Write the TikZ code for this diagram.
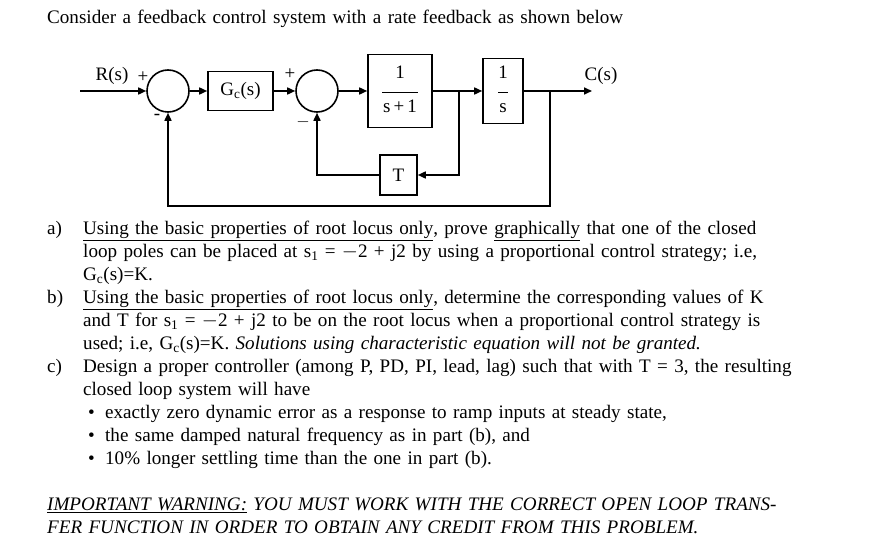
\documentclass[tikz,border=0pt]{standalone}
\usepackage{fontspec}
\setmainfont{Liberation Serif}
\usetikzlibrary{arrows.meta}
\begin{document}
\begin{tikzpicture}[x=1pt,y=-1pt,
  blk/.style={draw,line width=1.6pt,minimum width=#1,inner sep=0pt,font=\fontsize{19}{21}\selectfont},
  sum/.style={draw,circle,line width=1.6pt,minimum size=42pt,inner sep=0pt},
  ln/.style={line width=1.6pt},
  ar/.style={ln,-{Triangle[length=8pt,width=7pt]}},
  txt/.style={anchor=north west,inner sep=0pt,font=\fontsize{19.1}{23}\selectfont,text width=#1},
  sm/.style={font=\fontsize{19}{21}\selectfont,inner sep=0pt}]
\useasboundingbox (0,0) rectangle (874,553);
\fill[white] (0,0) rectangle (874,553);
\node[txt=820pt] (t0) at (47,10) {Consider a feedback control system with a rate feedback as shown below};
% diagram
\coordinate (in) at (80,91);
\node[sum] (s1) at (168,91) {};
\node[blk=65pt,minimum height=39pt] (gc) at (240.5,91) {G\textsubscript{c}(s)};
\node[sum] (s2) at (317,91) {};
\node[blk=64pt,minimum height=73pt] (p1) at (400,91) {\begin{tabular}{@{}c@{}}1\\[-6pt]\rule{36pt}{0.8pt}\\[-2pt]s\,+\,1\end{tabular}};
\node[blk=40pt,minimum height=65pt] (p2) at (503,91) {\begin{tabular}{@{}c@{}}1\\[-6pt]\rule{10pt}{0.8pt}\\[-2pt]s\end{tabular}};
\node[blk=37pt,minimum height=40pt] (tb) at (398.5,175) {T};
\coordinate (out) at (592,91);
\coordinate (b1) at (459,91);
\coordinate (b2) at (550,91);
\draw[ar] (in) -- (s1);
\draw[ar] (s1) -- (gc);
\draw[ar] (gc) -- (s2);
\draw[ar] (s2) -- (p1);
\draw[ar] (p1) -- (p2);
\draw[ar] (p2) -- (out);
\draw[ar] (b1) |- (tb);
\draw[ar] (tb) -| (s2);
\draw[ar] (b2) |- (168,206) -- (s1);
\node[sm] (lr) at (112,76) {R(s)};
\node[sm] (lc) at (601,76) {C(s)};
\node[sm] (p1s) at (143,77) {+};
\node[sm] (m1) at (157,117) {-};
\node[sm] (p2s) at (290,74) {+};
\node[sm] (m2) at (303,122) {$-$};
% text
\node[txt=20pt] (la) at (47,221) {a)};
\node[txt=712pt] (ta) at (83,221) {\underline{Using the basic properties of root locus only}, prove \underline{graphically} that one of the closed loop poles can be placed at s\textsubscript{1} = $-$2 + j2 by using a proportional control strategy; i.e, G\textsubscript{c}(s)=K.};
\node[txt=20pt] (lb) at (47,290) {b)};
\node[txt=712pt] (tbx) at (83,290) {\underline{Using the basic properties of root locus only}, determine the corresponding values of K and T for s\textsubscript{1} = $-$2 + j2 to be on the root locus when a proportional control strategy is used; i.e, G\textsubscript{c}(s)=K. \textit{Solutions using characteristic equation will not be granted.}};
\node[txt=20pt] (lcc) at (47,359) {c)};
\node[txt=712pt] (tc) at (83,359) {Design a proper controller (among P, PD, PI, lead, lag) such that with T = 3, the resulting closed loop system will have};
\node[txt=720pt] (bu) at (88,405) {\makebox[17pt][l]{\textbullet}exactly zero dynamic error as a response to ramp inputs at steady state,\\
\makebox[17pt][l]{\textbullet}the same damped natural frequency as in part (b), and\\
\makebox[17pt][l]{\textbullet}10\% longer settling time than the one in part (b).};
\node[txt=748pt] (w) at (47,498) {\itshape \underline{IMPORTANT WARNING:} YOU MUST WORK WITH THE CORRECT OPEN LOOP TRANSFER FUNCTION IN ORDER TO OBTAIN ANY CREDIT FROM THIS PROBLEM.};
\end{tikzpicture}
\end{document}
